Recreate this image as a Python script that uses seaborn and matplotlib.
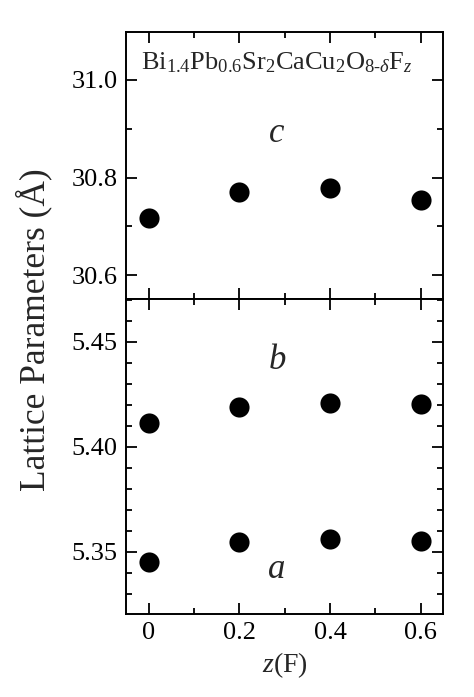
import matplotlib
matplotlib.use("Agg")
import matplotlib.pyplot as plt
import seaborn as sns
import pandas as pd
from matplotlib.ticker import MultipleLocator

z_values = [0.0, 0.2, 0.4, 0.6]
c_values = [30.717, 30.771, 30.779, 30.754]
b_values = [5.4111, 5.4190, 5.4208, 5.4202]
a_values = [5.3452, 5.3546, 5.3559, 5.3552]

sns.set_theme(style="ticks")
plt.rcParams['font.family'] = ['Liberation Serif', 'DejaVu Serif']
plt.rcParams['mathtext.fontset'] = 'custom'
plt.rcParams['mathtext.rm'] = 'Liberation Serif'
plt.rcParams['mathtext.it'] = 'Liberation Serif:italic'
plt.rcParams['mathtext.bf'] = 'Liberation Serif:bold'

df_c = pd.DataFrame({"z": z_values, "val": c_values})
df_ab = pd.DataFrame({"z": z_values * 2, "val": b_values + a_values})

fig = plt.figure(figsize=(4.74, 6.97), dpi=100)
gs = fig.add_gridspec(2, 1, height_ratios=[267, 315], hspace=0,
                      left=0.266, right=0.935, top=0.954, bottom=0.119)
ax1 = fig.add_subplot(gs[0])
ax2 = fig.add_subplot(gs[1], sharex=ax1)

msize = 210
sns.scatterplot(data=df_c, x="z", y="val", ax=ax1, s=msize, color="black",
                edgecolor="black", linewidth=0, zorder=3, legend=False)
sns.scatterplot(data=df_ab, x="z", y="val", ax=ax2, s=msize, color="black",
                edgecolor="black", linewidth=0, zorder=3, legend=False)

ax1.set_xlim(-0.05, 0.65)
ax1.set_ylim(30.551, 31.098)
ax2.set_ylim(5.3203, 5.4703)

ax1.yaxis.set_major_locator(MultipleLocator(0.2))
ax1.yaxis.set_minor_locator(MultipleLocator(0.1))
ax2.yaxis.set_major_locator(MultipleLocator(0.05))
ax2.yaxis.set_minor_locator(MultipleLocator(0.01))
ax2.xaxis.set_major_locator(MultipleLocator(0.2))
ax2.xaxis.set_minor_locator(MultipleLocator(0.1))

ax1.yaxis.set_major_formatter(matplotlib.ticker.FormatStrFormatter('%.1f'))
ax2.yaxis.set_major_formatter(matplotlib.ticker.FormatStrFormatter('%.2f'))
ax2.xaxis.set_major_formatter(matplotlib.ticker.FuncFormatter(
    lambda v, p: '0' if abs(v) < 1e-9 else f'{v:.1f}'))

for ax in (ax1, ax2):
    for sp in ax.spines.values():
        sp.set_linewidth(1.4)
        sp.set_color('black')
    ax.tick_params(which='both', direction='in', top=True, right=True,
                   colors='black', labelsize=19, width=1.3)
    ax.tick_params(which='major', length=8)
    ax.tick_params(which='minor', length=4.5)
    ax.tick_params(axis='y', pad=6)
    ax.set_xlabel('')
    ax.set_ylabel('')

ax1.tick_params(labelbottom=False)
ax2.tick_params(axis='x', pad=6)

ax2.set_xlabel(r'$\it{z}$(F)', fontsize=20, labelpad=4)
fig.text(0.072, 0.527, 'Lattice Parameters (Å)', rotation=90, fontsize=25.5,
         ha='center', va='center')

ax1.text(0.283, 31.035,
         r'Bi$_{1.4}$Pb$_{0.6}$Sr$_2$CaCu$_2$O$_{8\text{-}\delta}$F$_z$',
         fontsize=19, ha='center', va='center')
ax1.text(0.283, 30.89, 'c', fontsize=25, style='italic', ha='center', va='center')
ax2.text(0.283, 5.441, 'b', fontsize=25, style='italic', ha='center', va='center')
ax2.text(0.283, 5.3413, 'a', fontsize=25, style='italic', ha='center', va='center')

fig.savefig('out.png', dpi=100, facecolor='white')
